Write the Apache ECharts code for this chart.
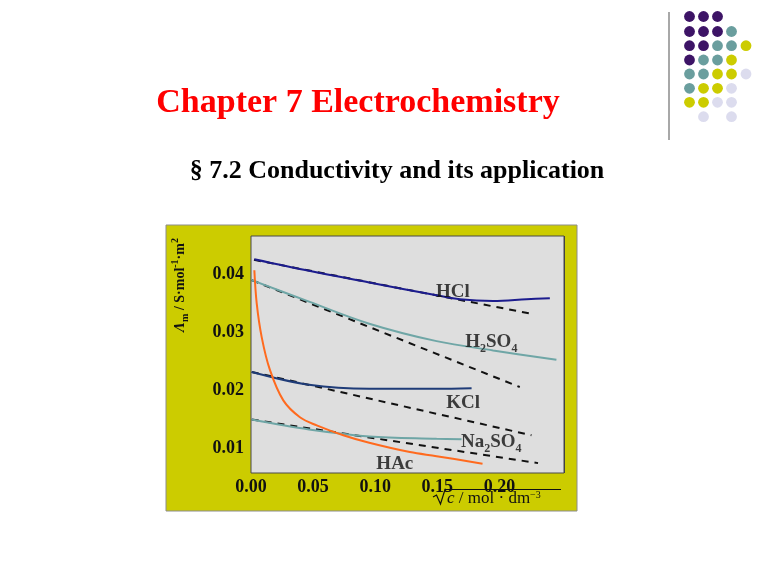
<!DOCTYPE html>
<html>
<head>
<meta charset="utf-8">
<script src="https://cdn.jsdelivr.net/npm/echarts@6/dist/echarts.min.js"></script>
<style>
html,body{margin:0;padding:0;background:#fff;}
#c{width:768px;height:576px;}
</style>
</head>
<body>
<div id="c"></div>
<script>
// ---- data ----
const xTicks = [0.00, 0.05, 0.10, 0.15, 0.20];
const yTicks = [0.01, 0.02, 0.03, 0.04];

const hclX = [0.0027, 0.0467, 0.0952, 0.1494, 0.1681, 0.1949, 0.2218, 0.2406];
const hclY = [0.0426, 0.0406, 0.0386, 0.0364, 0.0357, 0.0354, 0.0357, 0.0359];
const hclLimX = [0.0024, 0.2258];
const hclLimY = [0.0425, 0.0332];

const h2so4X = [0.0006, 0.0467, 0.0952, 0.1494, 0.1949, 0.2459];
const h2so4Y = [0.0390, 0.0353, 0.0315, 0.0285, 0.0269, 0.0253];
const h2so4LimX = [0.0006, 0.2164];
const h2so4LimY = [0.0390, 0.0206];

const kclX = [0.0006, 0.0467, 0.0952, 0.1494, 0.1776];
const kclY = [0.0232, 0.0210, 0.0203, 0.0203, 0.0204];
const kclLimX = [0.0006, 0.2258];
const kclLimY = [0.0232, 0.0123];

const na2so4X = [0.0006, 0.0467, 0.0952, 0.1494, 0.1695];
const na2so4Y = [0.0150, 0.0133, 0.0121, 0.0117, 0.0116];
const na2so4LimX = [0.0006, 0.2311];
const na2so4LimY = [0.0150, 0.0075];

const hacX = [0.0027, 0.0046, 0.0086, 0.0153, 0.0260, 0.0394, 0.0529, 0.0743, 0.0952, 0.1279, 0.1494, 0.1864];
const hacY = [0.0407, 0.0350, 0.0292, 0.0235, 0.0183, 0.0154, 0.0140, 0.0123, 0.0110, 0.0094, 0.0087, 0.0074];

const labelNames = ['HCl', 'H{s|2}SO{s|4}', 'KCl', 'Na{s|2}SO{s|4}', 'HAc'];
const labelX = [0.1625, 0.1935, 0.1708, 0.1935, 0.1158];
const labelY = [0.0370, 0.0284, 0.0178, 0.0112, 0.0074];

// ---- helpers ----
const zip = (xs, ys) => xs.map((x, i) => [x, ys[i]]);
const SERIF = "'Liberation Serif','Times New Roman',serif";

function solid(name, xs, ys, color) {
  return {
    type: 'line', name, data: zip(xs, ys), showSymbol: false, symbol: 'none',
    smooth: 0.35, silent: true,
    lineStyle: {color, width: 2}, z: 3
  };
}
function dashed(name, xs, ys) {
  return {
    type: 'line', name, data: zip(xs, ys), showSymbol: false, symbol: 'none', silent: true,
    lineStyle: {color: '#111', width: 2, type: [7, 6]}, z: 2
  };
}

// decorative dot grid (top-right)
const P = '#3d1466', T = '#6a9e9e', Y = '#cccc00', L = '#dcdcee';
const dotRows = [
  [P, P, P, null, null],
  [P, P, P, T, null],
  [P, P, T, T, Y],
  [P, T, T, Y, null],
  [T, T, Y, Y, L],
  [T, Y, Y, L, null],
  [Y, Y, L, L, null],
  [null, L, null, L, null]
];
const dotColX = [689.5, 703.5, 717.5, 731.5, 746];
const dotRowY = [16.5, 31.5, 45.7, 60, 74, 88.3, 102.3, 116.7];
const dots = [];
dotRows.forEach((row, r) => row.forEach((c, k) => {
  if (c) dots.push({type: 'circle', shape: {cx: dotColX[k], cy: dotRowY[r], r: 5.4}, style: {fill: c}, silent: true});
}));

const chart = echarts.init(document.getElementById('c'), null, {renderer: 'canvas'});
chart.setOption({
  animation: false,
  backgroundColor: '#ffffff',
  grid: {
    left: 251, top: 236, width: 313, height: 237,
    show: true, backgroundColor: '#dedede', borderColor: '#4a4a4a', borderWidth: 1, z: 1
  },
  xAxis: {
    type: 'value', min: 0, max: 0.252, interval: 0.05,
    axisLine: {show: false}, axisTick: {show: false},
    splitLine: {show: true, lineStyle: {color: '#3a3a3a', width: 1}},
    axisLabel: {
      margin: 5, fontFamily: SERIF, fontWeight: 'bold', fontSize: 18, color: '#111',
      showMaxLabel: true,
      formatter: v => {
        const hit = xTicks.find(t => Math.abs(t - v) < 1e-6);
        return hit === undefined ? '' : hit.toFixed(2);
      }
    }
  },
  yAxis: {
    type: 'value', min: 0.0058, max: 0.0466, interval: 0.0002,
    axisLine: {show: false}, axisTick: {show: false}, splitLine: {show: false},
    axisLabel: {
      margin: 7, fontFamily: SERIF, fontWeight: 'bold', fontSize: 18, color: '#111',
      formatter: v => {
        const hit = yTicks.find(t => Math.abs(t - v) < 1e-7);
        return hit === undefined ? '' : hit.toFixed(2);
      }
    }
  },
  graphic: [
    {type: 'rect', z: -10, silent: true, shape: {x: 166, y: 225, width: 411, height: 286},
     style: {fill: '#cccc00', stroke: '#8c8c8c', lineWidth: 1}},
    {type: 'text', x: 358, y: 103, silent: true,
     style: {text: 'Chapter 7 Electrochemistry', fontFamily: SERIF, fontWeight: 'bold', fontSize: 34,
             fill: '#ff0000', align: 'center', verticalAlign: 'middle'}},
    {type: 'text', x: 397, y: 171, silent: true,
     style: {text: '§ 7.2 Conductivity and its application', fontFamily: SERIF, fontWeight: 'bold', fontSize: 26,
             fill: '#000', align: 'center', verticalAlign: 'middle'}},
    {type: 'line', silent: true, shape: {x1: 669, y1: 12, x2: 669, y2: 140}, style: {stroke: '#a8a8a8', lineWidth: 2}},
    ...dots,
    // y-axis title
    {type: 'text', x: 180, y: 285, rotation: Math.PI / 2, silent: true,
     style: {
       text: '{i|Λ}{b|m}{t| / S·mol}{p|-1}{t|·m}{p|2}',
       align: 'center', verticalAlign: 'middle',
       rich: {
         i: {fontFamily: SERIF, fontWeight: 'bold', fontStyle: 'italic', fontSize: 15, lineHeight: 20, fill: '#111'},
         t: {fontFamily: SERIF, fontWeight: 'bold', fontSize: 14, lineHeight: 20, fill: '#111'},
         b: {fontFamily: SERIF, fontWeight: 'bold', fontSize: 10, lineHeight: 10, verticalAlign: 'bottom', fill: '#111'},
         p: {fontFamily: SERIF, fontWeight: 'bold', fontSize: 10, lineHeight: 10, verticalAlign: 'top', fill: '#111'}
       }
     }},
    // x-axis title: radical sign with overline
    {type: 'polyline', silent: true,
     shape: {points: [[433, 497], [436.5, 495], [440.5, 504], [445, 489.5], [561, 489.5]]},
     style: {stroke: '#111', lineWidth: 1.2, fill: null}},
    {type: 'text', x: 447, y: 499, silent: true,
     style: {
       text: '{c|c}{t| / mol · dm}{p|−3}',
       align: 'left', verticalAlign: 'middle',
       rich: {
         c: {fontFamily: SERIF, fontStyle: 'italic', fontSize: 17, lineHeight: 18, fill: '#111'},
         t: {fontFamily: SERIF, fontSize: 17, lineHeight: 18, fill: '#111'},
         p: {fontFamily: SERIF, fontSize: 10, lineHeight: 10, verticalAlign: 'top', fill: '#111'}
       }
     }}
  ],
  series: [
    dashed('HCl limiting', hclLimX, hclLimY),
    dashed('H2SO4 limiting', h2so4LimX, h2so4LimY),
    dashed('KCl limiting', kclLimX, kclLimY),
    dashed('Na2SO4 limiting', na2so4LimX, na2so4LimY),
    solid('HCl', hclX, hclY, '#1c1c8e'),
    solid('H2SO4', h2so4X, h2so4Y, '#6fa6a6'),
    solid('KCl', kclX, kclY, '#1f3c78'),
    solid('Na2SO4', na2so4X, na2so4Y, '#6fa6a6'),
    solid('HAc', hacX, hacY, '#ff6a1e'),
    {
      type: 'scatter', name: 'labels', symbolSize: 0, silent: true, z: 5,
      data: labelNames.map((n, i) => ({value: [labelX[i], labelY[i]], name: n})),
      label: {
        show: true, position: 'inside', formatter: p => '{t|' + p.name.replace(/\{s\|(\d)\}/g, '}{s|$1}{t|') + '}',
        rich: {
          t: {fontFamily: SERIF, fontWeight: 'bold', fontSize: 19, lineHeight: 26, color: '#111'},
          s: {fontFamily: SERIF, fontWeight: 'bold', fontSize: 12, lineHeight: 12, verticalAlign: 'bottom', color: '#111'}
        }
      },
      labelLayout: {hideOverlap: false}
    }
  ]
});
</script>
</body>
</html>
